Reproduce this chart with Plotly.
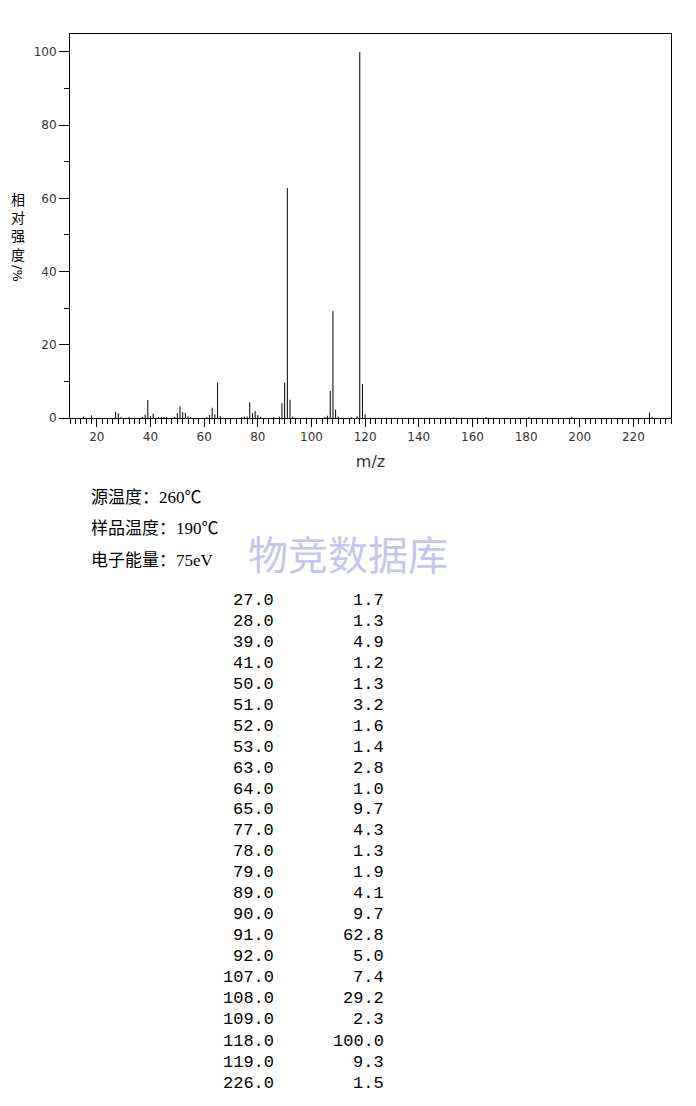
import plotly.graph_objects as go

# 质谱峰 (m/z, 相对强度)
mz = [15, 18, 27, 28, 29, 32, 37, 38, 39, 40, 41, 43, 44, 45, 46, 49, 50, 51, 52, 53,
      54, 55, 61, 62, 63, 64, 65, 66, 74, 75, 76, 77, 78, 79, 80, 81, 86, 88, 89, 90,
      91, 92, 93, 105, 106, 107, 108, 109, 110, 115, 117, 118, 119, 120, 153, 165,
      181, 197, 226, 227]
intensity = [0.4, 0.7, 1.7, 1.3, 0.3, 0.3, 0.3, 0.9, 4.9, 0.5, 1.2, 0.3, 0.3, 0.3, 0.3,
             0.3, 1.3, 3.2, 1.6, 1.4, 0.5, 0.3, 0.3, 0.8, 2.8, 1.0, 9.7, 0.5, 0.3, 0.4,
             0.4, 4.3, 1.3, 1.9, 0.8, 0.3, 0.3, 0.4, 4.1, 9.7, 62.8, 5.0, 0.4, 0.3, 0.6,
             7.4, 29.2, 2.3, 0.4, 0.3, 0.5, 100.0, 9.3, 1.0, 0.2, 0.3, 0.3, 0.3, 1.5, 0.3]

# 列表中的峰
table_mz = ["27.0", "28.0", "39.0", "41.0", "50.0", "51.0", "52.0", "53.0", "63.0",
            "64.0", "65.0", "77.0", "78.0", "79.0", "89.0", "90.0", "91.0", "92.0",
            "107.0", "108.0", "109.0", "118.0", "119.0", "226.0"]
table_int = ["1.7", "1.3", "4.9", "1.2", "1.3", "3.2", "1.6", "1.4", "2.8", "1.0",
             "9.7", "4.3", "1.3", "1.9", "4.1", "9.7", "62.8", "5.0", "7.4", "29.2",
             "2.3", "100.0", "9.3", "1.5"]

params = ["源温度：260℃", "样品温度：190℃", "电子能量：75eV"]
ytitle = ["相", "对", "强", "度"]

W, H = 696, 1106
OFF = 8  # 页面默认边距
L, R, T, B = 70, 671, 34, 418  # 绘图区在页面上的像素位置


def px(x):
    return (x - L) / (R - L)


def py(y):
    return (B - y) / (B - T)


xs, ys = [], []
for m, v in zip(mz, intensity):
    xs += [m, m, None]
    ys += [0, v, None]

fig = go.Figure()
fig.add_trace(go.Scatter(x=xs, y=ys, mode="lines",
                         line=dict(color="black", width=1),
                         hoverinfo="skip", showlegend=False))

ann = []
# 参数
for i, t in enumerate(params):
    ann.append(dict(x=px(89), y=py(497 + i * 31.5), xref="paper", yref="paper",
                    text=t, showarrow=False, xanchor="left", yanchor="middle",
                    font=dict(family="Liberation Serif, Noto Sans CJK SC", size=17,
                              color="black")))
# 水印
ann.append(dict(x=px(348), y=py(553), xref="paper", yref="paper", text="物竞数据库",
                showarrow=False, xanchor="center", yanchor="middle",
                font=dict(family="Noto Sans CJK SC", size=40, color="#c6c6ea")))
# 数据表
for i, (a, b) in enumerate(zip(table_mz, table_int)):
    yy = py(600 + i * 21)
    for txt, xr in ((a, 276), (b, 386)):
        ann.append(dict(x=px(xr), y=yy, xref="paper", yref="paper", text=txt,
                        showarrow=False, xanchor="right", yanchor="middle",
                        font=dict(family="Liberation Mono", size=17, color="black")))
# 纵轴标题 (竖排)
ann.append(dict(x=px(18), y=py(226), xref="paper", yref="paper",
                text="<br>".join(ytitle), showarrow=False,
                xanchor="center", yanchor="middle",
                font=dict(family="Noto Sans CJK SC", size=14, color="black")))
ann.append(dict(x=px(18), y=py(274), xref="paper", yref="paper", text="/%",
                textangle=90, showarrow=False, xanchor="center", yanchor="middle",
                font=dict(family="DejaVu Sans", size=13, color="black")))

fig.update_layout(
    width=W, height=H,
    margin=dict(l=L - OFF, r=W - R + OFF, t=T - OFF, b=H - B + OFF),
    paper_bgcolor="white", plot_bgcolor="white",
    annotations=ann,
    xaxis=dict(range=[10, 234], dtick=20, tick0=0, ticks="outside", ticklen=8,
               tickcolor="black", showgrid=False, zeroline=False,
               showline=True, linecolor="black", linewidth=1, mirror=True,
               minor=dict(dtick=2, ticks="outside", ticklen=5, tickcolor="black"),
               tickfont=dict(family="DejaVu Sans", size=12, color="#333"),
               title=dict(text="m/z", standoff=12,
                          font=dict(family="DejaVu Sans", size=16, color="#333"))),
    yaxis=dict(range=[0, 104.9], dtick=20, ticks="outside", ticklen=10,
               tickcolor="black", showgrid=False, zeroline=False,
               showline=True, linecolor="black", linewidth=1, mirror=True,
               minor=dict(dtick=10, ticks="outside", ticklen=5, tickcolor="black"),
               tickfont=dict(family="DejaVu Sans", size=12, color="#333")),
)

fig.write_html("out.html")
